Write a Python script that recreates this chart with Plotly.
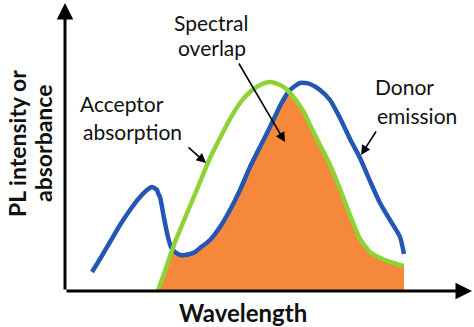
import plotly.graph_objects as go

# Shared wavelength grid (arbitrary units, origin at the axes corner)
wavelength = [27, 35, 45, 55, 65, 75, 82, 87, 92, 93, 95, 99, 103, 106, 108, 110, 115, 120,
              125, 130, 135, 145, 155, 165, 175, 185, 195, 205, 215, 220, 224, 230, 235, 240,
              245, 255, 265, 275, 285, 295, 305, 315, 325, 335, 339]

# Donor emission (blue)
donor_emission = [19, 32, 49, 66, 81, 94, 101, 104, 101, 98, 94, 73, 54, 44, 41, 39, 36, 36,
                  37, 39, 43, 51, 64, 81, 101, 124, 144, 164, 185, 194, 200, 205, 208, 208,
                  207, 201, 191, 173, 152, 133, 110, 88, 71, 54, 37]

# Acceptor absorption (green); None where not drawn
acceptor_absorption = [None, None, None, None, None, None, None, None, None, 0, 6, 17, 29, 38,
                       43, 49, 61, 73, 85, 97, 109, 133, 153, 172, 188, 199, 206, 209, 206,
                       203, 199, 192, 185, 177, 166, 146, 126, 102, 76, 52, 39, 33, 29, 26, 25]

# Spectral overlap = min of the two curves where both exist
ov_x, ov_y = [], []
for x, d, a in zip(wavelength, donor_emission, acceptor_absorption):
    if a is not None:
        ov_x.append(x)
        ov_y.append(min(d, a))

BLUE = "#2456b4"
GREEN = "#8ed236"
ORANGE = "#f5883a"
FONT = "Lato"

fig = go.Figure()
fig.add_trace(go.Scatter(x=ov_x, y=ov_y, mode="lines", line=dict(width=0, color=ORANGE),
                         fill="tozeroy", fillcolor=ORANGE, hoverinfo="skip"))
fig.add_trace(go.Scatter(x=wavelength, y=donor_emission, mode="lines",
                         line=dict(color=BLUE, width=4.5, shape="spline", smoothing=0.6),
                         hoverinfo="skip"))
fig.add_trace(go.Scatter(x=wavelength, y=acceptor_absorption, mode="lines",
                         line=dict(color=GREEN, width=4.5, shape="spline", smoothing=0.6),
                         hoverinfo="skip"))

ann = []
# Axes with arrowheads
ann.append(dict(x=0, y=288, ax=0, ay=0, xref="x", yref="y", axref="x", ayref="y",
                showarrow=True, arrowhead=2, arrowsize=1.1, arrowwidth=3, arrowcolor="black", text=""))
ann.append(dict(x=407, y=0, ax=0, ay=0, xref="x", yref="y", axref="x", ayref="y",
                showarrow=True, arrowhead=2, arrowsize=1.1, arrowwidth=3, arrowcolor="black", text=""))

def label(t, x, y, size=21, bold=False):
    ann.append(dict(x=x, y=y, xref="x", yref="y", text=("<b>%s</b>" % t) if bold else t,
                    showarrow=False, font=dict(family=FONT, size=size, color="#111111"),
                    xanchor="center", yanchor="middle"))

def pointer(x0, y0, x1, y1):
    ann.append(dict(x=x1, y=y1, ax=x0, ay=y0, xref="x", yref="y", axref="x", ayref="y",
                    showarrow=True, arrowhead=2, arrowsize=1.2, arrowwidth=1.6,
                    arrowcolor="black", text=""))

label("Spectral", 146, 269)
label("overlap", 147, 244)
pointer(173, 229, 220, 149)
label("Acceptor", 57, 188)
label("absorption", 67, 160)
pointer(122, 145, 141, 128)
label("Donor", 339, 205)
label("emission", 352, 176)
pointer(312, 161, 296, 136)
label("Wavelength", 178, -21, size=24, bold=True)

for t, x in [("PL intensity or", -48), ("absorbance", -22)]:
    ann.append(dict(x=x, y=147, xref="x", yref="y", text="<b>%s</b>" % t, textangle=-90,
                    showarrow=False, font=dict(family=FONT, size=23, color="#111111"),
                    xanchor="center", yanchor="middle"))

fig.update_layout(
    width=474, height=327, margin=dict(l=0, r=0, t=0, b=0),
    paper_bgcolor="white", plot_bgcolor="white", showlegend=False,
    xaxis=dict(range=[-65, 409], visible=False, fixedrange=True),
    yaxis=dict(range=[-36, 291], visible=False, fixedrange=True),
    annotations=ann,
)
fig.write_html("out.html", config={"displayModeBar": False})
